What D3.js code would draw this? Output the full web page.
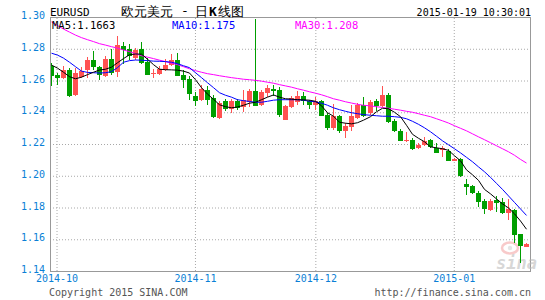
<!DOCTYPE html>
<html>
<head>
<meta charset="utf-8">
<script src="https://cdn.jsdelivr.net/npm/d3@7"></script>
<style>
body { margin: 0; background: #fff; }
svg { display: block; }
text { font-family: "DejaVu Sans Mono", monospace; }
</style>
</head>
<body>
<script>
// trading days shown on the chart
var dates = [
  "2014-09-30",
  "2014-10-01","2014-10-02","2014-10-03","2014-10-06","2014-10-07","2014-10-08","2014-10-09","2014-10-10",
  "2014-10-13","2014-10-14","2014-10-15","2014-10-16","2014-10-17","2014-10-20","2014-10-21","2014-10-22",
  "2014-10-23","2014-10-24","2014-10-27","2014-10-28","2014-10-29","2014-10-30","2014-10-31",
  "2014-11-03","2014-11-04","2014-11-05","2014-11-06","2014-11-07","2014-11-10","2014-11-11","2014-11-12",
  "2014-11-13","2014-11-14","2014-11-17","2014-11-18","2014-11-19","2014-11-20","2014-11-21","2014-11-24",
  "2014-11-25","2014-11-26","2014-11-27","2014-11-28",
  "2014-12-01","2014-12-02","2014-12-03","2014-12-04","2014-12-05","2014-12-08","2014-12-09","2014-12-10",
  "2014-12-11","2014-12-12","2014-12-15","2014-12-16","2014-12-17","2014-12-18","2014-12-19","2014-12-22",
  "2014-12-23","2014-12-24","2014-12-25","2014-12-26","2014-12-29","2014-12-30","2014-12-31",
  "2015-01-01","2015-01-02","2015-01-05","2015-01-06","2015-01-07","2015-01-08","2015-01-09","2015-01-12",
  "2015-01-13","2015-01-14","2015-01-15","2015-01-16","2015-01-19"
];

var opens = [
  1.2693,1.2632,1.2613,1.2668,1.2510,1.2620,1.2664,1.2731,1.2685,1.2626,
  1.2738,1.2651,1.2815,1.2801,1.2742,1.2799,1.2714,1.2644,1.2641,1.2664,
  1.2695,1.2731,1.2637,1.2611,1.2504,1.2479,1.2542,1.2490,1.2363,1.2473,
  1.2420,1.2473,1.2433,1.2462,1.2531,1.2447,1.2521,1.2548,1.2542,1.2353,
  1.2435,1.2462,1.2504,1.2468,1.2447,1.2468,1.2384,1.2300,1.2378,1.2285,
  1.2310,1.2363,1.2447,1.2395,1.2474,1.2437,1.2510,1.2348,1.2285,1.2216,
  1.2227,1.2174,1.2195,1.2227,1.2174,1.2163,1.2159,1.2096,1.2105,1.1949,
  1.1936,1.1890,1.1844,1.1785,1.1848,1.1837,1.1768,1.1785,1.1633,1.1553
];
var highs = [
  1.2712,1.2649,1.2693,1.2681,1.2679,1.2683,1.2746,1.2784,1.2693,1.2752,
  1.2801,1.2878,1.2843,1.2832,1.2805,1.2840,1.2744,1.2673,1.2689,1.2736,
  1.2769,1.2774,1.2668,1.2626,1.2525,1.2574,1.2563,1.2510,1.2473,1.2483,
  1.2483,1.2483,1.2538,1.2546,1.2985,1.2542,1.2574,1.2574,1.2561,1.2447,
  1.2504,1.2531,1.2525,1.2479,1.2496,1.2479,1.2395,1.2454,1.2384,1.2332,
  1.2447,1.2458,1.2493,1.2479,1.2483,1.2563,1.2521,1.2357,1.2294,1.2273,
  1.2237,1.2206,1.2247,1.2233,1.2209,1.2189,1.2168,1.2113,1.2111,1.1979,
  1.1940,1.1905,1.1851,1.1852,1.1873,1.1859,1.1851,1.1789,1.1636,1.1577
];
var lows = [
  1.2567,1.2574,1.2611,1.2493,1.2504,1.2616,1.2616,1.2668,1.2601,1.2622,
  1.2637,1.2622,1.2704,1.2731,1.2727,1.2706,1.2633,1.2616,1.2637,1.2657,
  1.2689,1.2626,1.2553,1.2479,1.2441,1.2468,1.2447,1.2361,1.2357,1.2411,
  1.2395,1.2416,1.2399,1.2433,1.2438,1.2441,1.2496,1.2500,1.2372,1.2350,
  1.2428,1.2447,1.2447,1.2420,1.2416,1.2374,1.2290,1.2290,1.2269,1.2237,
  1.2279,1.2357,1.2370,1.2384,1.2405,1.2433,1.2332,1.2273,1.2216,1.2214,
  1.2163,1.2168,1.2189,1.2174,1.2141,1.2121,1.2090,1.2094,1.1995,1.1880,
  1.1886,1.1801,1.1760,1.1780,1.1774,1.1760,1.1722,1.1575,1.1452,1.1551
];
var closes = [
  1.2626,1.2613,1.2668,1.2504,1.2647,1.2657,1.2731,1.2683,1.2637,1.2738,
  1.2647,1.2821,1.2794,1.2752,1.2794,1.2710,1.2637,1.2649,1.2673,1.2700,
  1.2731,1.2630,1.2601,1.2517,1.2474,1.2546,1.2479,1.2370,1.2458,1.2420,
  1.2473,1.2427,1.2479,1.2531,1.2441,1.2529,1.2553,1.2531,1.2381,1.2441,
  1.2490,1.2504,1.2468,1.2447,1.2474,1.2378,1.2300,1.2378,1.2279,1.2315,
  1.2374,1.2447,1.2374,1.2462,1.2437,1.2510,1.2336,1.2279,1.2222,1.2227,
  1.2168,1.2195,1.2216,1.2182,1.2144,1.2174,1.2096,1.2107,1.1999,1.1932,
  1.1890,1.1837,1.1789,1.1844,1.1831,1.1768,1.1791,1.1627,1.1558,1.1570
];

// moving averages
var ma5 = [
  1.2697,1.2678,1.2652,1.2624,1.2611,1.2621,1.2637,1.2652,1.2666,1.2671,
  1.2684,1.2712,1.2738,1.2762,1.2767,1.2766,1.2734,1.2700,1.2671,1.2668,
  1.2667,1.2665,1.2659,1.2647,1.2605,1.2555,1.2514,1.2482,1.2447,1.2435,
  1.2428,1.2433,1.2444,1.2457,1.2463,1.2479,1.2495,1.2509,1.2495,1.2485,
  1.2483,1.2479,1.2478,1.2476,1.2469,1.2441,1.2397,1.2375,1.2337,1.2331,
  1.2327,1.2334,1.2350,1.2372,1.2403,1.2425,1.2422,1.2400,1.2372,1.2318,
  1.2261,1.2236,1.2214,1.2182,1.2176,1.2170,1.2160,1.2126,1.2094,1.2037,
  1.2006,1.1971,1.1914,1.1886,1.1854,1.1823,1.1797,1.1760,1.1715,1.1663
];
var ma10 = [
  1.2772,1.2760,1.2741,1.2715,1.2687,1.2659,1.2651,1.2649,1.2647,1.2649,
  1.2656,1.2681,1.2715,1.2725,1.2729,1.2728,1.2725,1.2722,1.2721,1.2719,
  1.2715,1.2706,1.2693,1.2681,1.2649,1.2618,1.2586,1.2555,1.2523,1.2507,
  1.2495,1.2479,1.2473,1.2468,1.2463,1.2463,1.2469,1.2476,1.2479,1.2479,
  1.2479,1.2479,1.2476,1.2469,1.2466,1.2457,1.2444,1.2428,1.2416,1.2406,
  1.2397,1.2391,1.2385,1.2381,1.2378,1.2375,1.2375,1.2372,1.2368,1.2359,
  1.2343,1.2324,1.2302,1.2277,1.2249,1.2220,1.2195,1.2170,1.2144,1.2116,
  1.2088,1.2056,1.2025,1.1990,1.1952,1.1914,1.1873,1.1832,1.1791,1.1750
];
var ma30 = [
  1.2969,1.2946,1.2924,1.2905,1.2886,1.2870,1.2857,1.2845,1.2832,1.2823,
  1.2813,1.2804,1.2792,1.2782,1.2769,1.2756,1.2747,1.2738,1.2728,1.2719,
  1.2709,1.2700,1.2687,1.2674,1.2662,1.2652,1.2643,1.2637,1.2630,1.2624,
  1.2618,1.2613,1.2608,1.2605,1.2601,1.2596,1.2589,1.2583,1.2574,1.2566,
  1.2558,1.2548,1.2539,1.2529,1.2520,1.2510,1.2498,1.2485,1.2476,1.2466,
  1.2458,1.2450,1.2444,1.2440,1.2435,1.2430,1.2425,1.2419,1.2413,1.2406,
  1.2400,1.2391,1.2381,1.2372,1.2359,1.2346,1.2332,1.2315,1.2299,1.2283,
  1.2264,1.2245,1.2227,1.2208,1.2189,1.2170,1.2151,1.2129,1.2103,1.2080
];

var yTicks = [1.14, 1.16, 1.18, 1.20, 1.22, 1.24, 1.26, 1.28, 1.30];
var monthDates = ["2014-10-01", "2014-11-03", "2014-12-01", "2015-01-01"];
var monthLabels = ["2014-10", "2014-11", "2014-12", "2015-01"];

(function () {

var width = 545,
    height = 300,
    pLeft = 50, pRight = 530, pTop = 17, pBottom = 271,
    red = "#ff5252", green = "#009e00", blue = "#0a7fd6";

var svg = d3.select("body").append("svg")
    .attr("width", width)
    .attr("height", height);

var x = d3.scaleBand().domain(dates).range([48, 529.5]),
    y = d3.scaleLinear().domain([1.14, 1.30]).range([pBottom, pTop]);

function cx(d) { return Math.floor(x(d) + x.bandwidth() / 2); }

svg.append("defs").append("clipPath").attr("id", "plot")
  .append("rect").attr("x", pLeft + 1).attr("y", pTop)
  .attr("width", pRight - pLeft - 1).attr("height", pBottom - pTop);

// grid + y labels
var yAxis = svg.append("g")
    .attr("transform", "translate(" + pLeft + ",0)")
    .call(d3.axisLeft(y).tickValues(yTicks).tickSize(-(pRight - pLeft)).tickPadding(5)
      .tickFormat(d3.format(".2f")));
yAxis.select(".domain").remove();
yAxis.selectAll("line").attr("stroke", "#a8a8a8").attr("stroke-dasharray", "1,2");
yAxis.selectAll("text").attr("fill", blue).attr("font-size", 10).attr("dy", "0.16em");

var xAxis = svg.append("g")
    .attr("transform", "translate(0," + pBottom + ")")
    .call(d3.axisBottom(x).tickValues(monthDates).tickSize(-(pBottom - pTop)).tickPadding(4)
      .tickFormat(function(d) { return monthLabels[monthDates.indexOf(d)]; }));
xAxis.select(".domain").remove();
xAxis.selectAll("line").attr("stroke", "#a8a8a8").attr("stroke-dasharray", "1,2");
xAxis.selectAll("text").attr("fill", blue).attr("font-size", 10);

// frame
svg.append("rect")
    .attr("x", pLeft + 0.5).attr("y", pTop + 0.5)
    .attr("width", pRight - pLeft).attr("height", pBottom - pTop)
    .attr("fill", "none").attr("stroke", "#999");

// sina watermark
var wm = svg.append("g").attr("opacity", 0.55);
wm.append("ellipse").attr("cx", 510).attr("cy", 248).attr("rx", 8).attr("ry", 5.5)
  .attr("fill", "none").attr("stroke", "#f4a0a0").attr("stroke-width", 2.5);
wm.append("circle").attr("cx", 510).attr("cy", 248).attr("r", 2.2).attr("fill", "#d0d0d0");
wm.append("text").attr("x", 496).attr("y", 269)
  .attr("font-family", "Liberation Sans, sans-serif").attr("font-weight", "bold")
  .attr("font-style", "italic").attr("font-size", 17).attr("fill", "#b8b8b8").text("sina");

var plot = svg.append("g").attr("clip-path", "url(#plot)");

var idx = d3.range(dates.length);
function col(i) { return closes[i] >= opens[i] ? red : green; }

plot.selectAll("line.wick")
    .data(idx)
  .enter().append("line")
    .attr("class", "wick")
    .attr("x1", function(i) { return cx(dates[i]) + 0.5; })
    .attr("x2", function(i) { return cx(dates[i]) + 0.5; })
    .attr("y1", function(i) { return y(highs[i]); })
    .attr("y2", function(i) { return y(lows[i]); })
    .attr("stroke", col)
    .attr("shape-rendering", "crispEdges");

plot.selectAll("rect.body")
    .data(idx)
  .enter().append("rect")
    .attr("class", "body")
    .attr("x", function(i) { return cx(dates[i]) - 2; })
    .attr("width", 5)
    .attr("y", function(i) { return y(Math.max(opens[i], closes[i])); })
    .attr("height", function(i) { return Math.max(1.5, Math.abs(y(opens[i]) - y(closes[i]))); })
    .attr("fill", col)
    .attr("shape-rendering", "crispEdges");

var maLines = [[ma30, "#ff00ff"], [ma10, "#0000ff"], [ma5, "#000000"]];
maLines.forEach(function(m) {
  var line = d3.line()
      .x(function(v, i) { return cx(dates[i]) + 0.5; })
      .y(function(v) { return y(v); });
  plot.append("path")
      .attr("d", line(m[0]))
      .attr("fill", "none")
      .attr("stroke", m[1])
      .attr("stroke-width", 1);
});

// header
function fmt(v) { return "" + (+v.toFixed(4)); }
var n = dates.length - 1;
svg.append("text").attr("x", 50).attr("y", 16).attr("font-size", 11).attr("fill", "#000").text("EURUSD");
var cjk = "Noto Sans CJK SC, sans-serif";
svg.append("text").attr("x", 121).attr("y", 16).attr("font-family", cjk).attr("font-size", 13).text("欧元美元");
svg.append("text").attr("x", 181).attr("y", 15).attr("font-family", cjk).attr("font-size", 13).text("-");
svg.append("text").attr("x", 195).attr("y", 16).attr("font-family", cjk).attr("font-size", 13).text("日");
svg.append("text").attr("x", 209).attr("y", 16).attr("font-family", "Liberation Serif, serif")
  .attr("font-weight", "bold").attr("font-size", 13).text("K");
svg.append("text").attr("x", 218).attr("y", 16).attr("font-family", cjk).attr("font-size", 13).text("线图");
svg.append("text").attr("x", 531).attr("y", 16).attr("text-anchor", "end").attr("font-size", 10)
  .text("2015-01-19 10:30:01");

svg.append("text").attr("x", 52).attr("y", 29).attr("font-size", 10.5).attr("fill", "#000").text("MA5:" + fmt(ma5[n]));
svg.append("text").attr("x", 172).attr("y", 29).attr("font-size", 10.5).attr("fill", "#0000ff").text("MA10:" + fmt(ma10[n]));
svg.append("text").attr("x", 295).attr("y", 29).attr("font-size", 10.5).attr("fill", "#ff00ff").text("MA30:" + fmt(ma30[n]));

// footer
svg.append("text").attr("x", 49).attr("y", 296).attr("font-size", 10).attr("fill", "#555").text("Copyright 2015 SINA.COM");
svg.append("text").attr("x", 531).attr("y", 296).attr("text-anchor", "end").attr("font-size", 10).attr("fill", "#555")
  .text("http://finance.sina.com.cn");

})();
</script>
</body>
</html>
